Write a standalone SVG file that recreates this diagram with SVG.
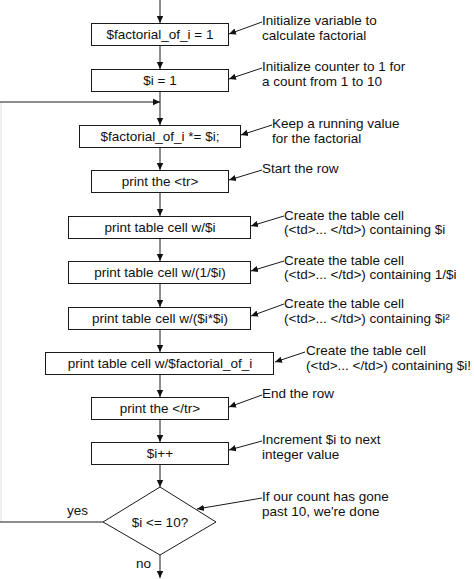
<svg xmlns="http://www.w3.org/2000/svg" width="474" height="579" viewBox="0 0 474 579">
<style>
.box{fill:#fff;stroke:#1a1a1a;stroke-width:1}
.t{font-family:"Liberation Sans",Arial,sans-serif;font-size:13.5px;fill:#111}
.c{text-anchor:middle}
.ln{stroke:#1a1a1a;stroke-width:1;fill:none}
</style>
<defs>
<marker id="ah" markerUnits="userSpaceOnUse" markerWidth="8" markerHeight="8" refX="7" refY="4" orient="auto">
<path d="M0,0.8 L7,4 L0,7.2 Z" fill="#111"/>
</marker>
</defs>
<rect width="474" height="579" fill="#fff"/>
<g id="connectors">
<line class="ln" x1="160" y1="0" x2="160" y2="23" marker-end="url(#ah)"/>
<line class="ln" x1="160" y1="45" x2="160" y2="69" marker-end="url(#ah)"/>
<line class="ln" x1="160" y1="91" x2="160" y2="125" marker-end="url(#ah)"/>
<line x1="1" y1="102" x2="1" y2="522" stroke="#eeeeee" stroke-width="2"/>
<line class="ln" x1="0" y1="102" x2="160" y2="102" marker-end="url(#ah)"/>
<line class="ln" x1="160" y1="147" x2="160" y2="170" marker-end="url(#ah)"/>
<line class="ln" x1="160" y1="193" x2="160" y2="216" marker-end="url(#ah)"/>
<line class="ln" x1="160" y1="238" x2="160" y2="261" marker-end="url(#ah)"/>
<line class="ln" x1="160" y1="283" x2="160" y2="307" marker-end="url(#ah)"/>
<line class="ln" x1="160" y1="329" x2="160" y2="352" marker-end="url(#ah)"/>
<line class="ln" x1="160" y1="374" x2="160" y2="397" marker-end="url(#ah)"/>
<line class="ln" x1="160" y1="419" x2="160" y2="442" marker-end="url(#ah)"/>
<line class="ln" x1="160" y1="465" x2="160" y2="487" marker-end="url(#ah)"/>
<line class="ln" x1="160" y1="555" x2="160" y2="578" marker-end="url(#ah)"/>
<line class="ln" x1="103" y1="522" x2="0" y2="522"/>
<line class="ln" x1="262" y1="22" x2="229" y2="34" marker-end="url(#ah)"/>
<line class="ln" x1="262" y1="68" x2="229" y2="79" marker-end="url(#ah)"/>
<line class="ln" x1="272" y1="125" x2="241" y2="135" marker-end="url(#ah)"/>
<line class="ln" x1="262" y1="170" x2="229" y2="180" marker-end="url(#ah)"/>
<line class="ln" x1="284" y1="216" x2="251" y2="226" marker-end="url(#ah)"/>
<line class="ln" x1="284" y1="261" x2="251" y2="271" marker-end="url(#ah)"/>
<line class="ln" x1="284" y1="304" x2="251" y2="316" marker-end="url(#ah)"/>
<line class="ln" x1="305" y1="352" x2="275" y2="362" marker-end="url(#ah)"/>
<line class="ln" x1="262" y1="395" x2="229" y2="407" marker-end="url(#ah)"/>
<line class="ln" x1="262" y1="441" x2="229" y2="450" marker-end="url(#ah)"/>
<line class="ln" x1="262" y1="498" x2="197" y2="509" marker-end="url(#ah)"/>
</g>
<g id="n1"><rect class="box" x="91.5" y="23.5" width="137" height="22"/><text class="t c" x="160" y="39">$factorial_of_i = 1</text></g>
<g id="n2"><rect class="box" x="91.5" y="69.5" width="137" height="22"/><text class="t c" x="160" y="85">$i = 1</text></g>
<g id="n3"><rect class="box" x="79.5" y="125.5" width="161" height="22"/><text class="t c" x="160" y="141">$factorial_of_i *= $i;</text></g>
<g id="n4"><rect class="box" x="91.5" y="170.5" width="137" height="22"/><text class="t c" x="160" y="186">print the &lt;tr&gt;</text></g>
<g id="n5"><rect class="box" x="68.5" y="216.5" width="182" height="22"/><text class="t c" x="160" y="232">print table cell w/$i</text></g>
<g id="n6"><rect class="box" x="68.5" y="261.5" width="182" height="22"/><text class="t c" x="160" y="277">print table cell w/(1/$i)</text></g>
<g id="n7"><rect class="box" x="68.5" y="307.5" width="182" height="22"/><text class="t c" x="160" y="323">print table cell w/($i*$i)</text></g>
<g id="n8"><rect class="box" x="45.5" y="352.5" width="228" height="22"/><text class="t c" x="160" y="368">print table cell w/$factorial_of_i</text></g>
<g id="n9"><rect class="box" x="91.5" y="397.5" width="137" height="22"/><text class="t c" x="160" y="413">print the &lt;/tr&gt;</text></g>
<g id="n10"><rect class="box" x="91.5" y="442.5" width="137" height="22"/><text class="t c" x="160" y="458">$i++</text></g>
<g id="n11"><polygon class="box" points="160,487 216,522 160,555 103,522"/><text class="t c" x="160" y="527">$i &lt;= 10?</text></g>
<g id="labels">
<text class="t" x="67" y="515">yes</text>
<text class="t" x="136" y="568">no</text>
<text class="t" x="262" y="25">Initialize variable to</text>
<text class="t" x="262" y="40">calculate factorial</text>
<text class="t" x="262" y="71">Initialize counter to 1 for</text>
<text class="t" x="262" y="86">a count from 1 to 10</text>
<text class="t" x="272" y="128">Keep a running value</text>
<text class="t" x="272" y="143">for the factorial</text>
<text class="t" x="262" y="173">Start the row</text>
<text class="t" x="284" y="220">Create the table cell</text>
<text class="t" x="284" y="234">(&lt;td&gt;... &lt;/td&gt;) containing $i</text>
<text class="t" x="284" y="265">Create the table cell</text>
<text class="t" x="284" y="279">(&lt;td&gt;... &lt;/td&gt;) containing 1/$i</text>
<text class="t" x="284" y="308">Create the table cell</text>
<text class="t" x="284" y="323">(&lt;td&gt;... &lt;/td&gt;) containing $i²</text>
<text class="t" x="306" y="355">Create the table cell</text>
<text class="t" x="306" y="370">(&lt;td&gt;... &lt;/td&gt;) containing $i!</text>
<text class="t" x="262" y="398">End the row</text>
<text class="t" x="262" y="444">Increment $i to next</text>
<text class="t" x="262" y="459">integer value</text>
<text class="t" x="262" y="501">If our count has gone</text>
<text class="t" x="262" y="516">past 10, we're done</text>
</g>
</svg>
